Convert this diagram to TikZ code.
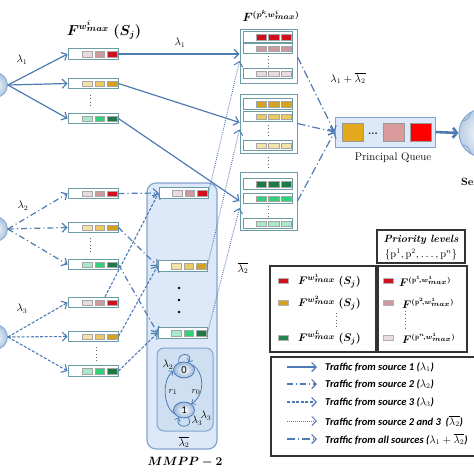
\documentclass[tikz,border=0pt]{standalone}
\usepackage{amsmath}
\usepackage{fontspec}
\newfontfamily\carl{Carlito}
\usetikzlibrary{arrows.meta,shapes.geometric,calc}

\definecolor{lb}{HTML}{4E7BB2}
\definecolor{bord}{HTML}{6C9BA3}
\definecolor{mfill}{HTML}{DDE9F8}
\definecolor{mdraw}{HTML}{82A5CE}
\definecolor{cR}{HTML}{D0101C}
\definecolor{cP}{HTML}{CB9A9F}
\definecolor{cL}{HTML}{E8DCE0}
\definecolor{cGd}{HTML}{D5A21E}
\definecolor{cG}{HTML}{E9CB62}
\definecolor{cGl}{HTML}{F3E3A8}
\definecolor{cNd}{HTML}{1E7A44}
\definecolor{cN}{HTML}{2FD27A}
\definecolor{cNl}{HTML}{A8E8CB}
\definecolor{qGold}{HTML}{E2A91C}
\definecolor{qPink}{HTML}{D99A9C}
\definecolor{qRed}{HTML}{FF0000}
\definecolor{legc}{HTML}{333333}

\newcommand{\qb}[8]{%
 \node[qbar, minimum width=#4pt] (#1) at (#2,#3) {};
 \node[cell, minimum width=#5pt, fill=#8] (#1c) at ([xshift=-6.5pt]#1.east) {};
 \node[cell, minimum width=#5pt, fill=#7] (#1b) at ([xshift=-19pt]#1.east) {};
 \node[cell, minimum width=#5pt, fill=#6] (#1a) at ([xshift=-31.5pt]#1.east) {};
}
\newcommand{\Fw}[1]{\boldsymbol{F^{w^{#1}_{\scriptstyle max}}}}

\tikzset{
 qbar/.style={rectangle, draw=bord, fill=white, line width=0.9pt, minimum height=10.5pt, inner sep=0pt},
 cell/.style={rectangle, draw=black!35, line width=0.3pt, minimum height=5.5pt, inner sep=0pt},
 fbox/.style={rectangle, draw=bord, fill=white, line width=1pt, minimum width=57pt, inner sep=0pt},
 tip/.style={-{Straight Barb[length=4.5pt,width=9pt]}},
 s1line/.style={draw=lb, line width=1.2pt, tip},
 s2line/.style={draw=lb, line width=1.2pt, tip, dash pattern=on 6pt off 3pt on 1.2pt off 3pt},
 s3line/.style={draw=lb, line width=1.1pt, tip, dash pattern=on 3pt off 1.6pt},
 mixline/.style={draw=lb, line width=1pt, tip, dash pattern=on 0.8pt off 1.2pt},
 allline/.style={draw=lb, line width=1.2pt, tip, dash pattern=on 8pt off 3pt on 1.2pt off 3pt},
 srcnode/.style={circle, minimum size=25pt, draw=mdraw, line width=0.8pt, inner color=white, outer color=mdraw!70},
 state/.style={ellipse, minimum width=21pt, minimum height=16pt, inner sep=0pt, draw=lb, line width=0.8pt, inner color=white, outer color=mdraw!80, font=\carl\fontsize{10.5}{12}\selectfont},
 sarr/.style={draw=lb, line width=0.8pt, -{Straight Barb[length=3pt,width=6pt]}},
 lbl/.style={font=\fontsize{10.5}{12}\selectfont, inner sep=0pt},
 dotv/.style={draw=black!60, line width=0.9pt, dash pattern=on 0.9pt off 2.4pt},
 legbox/.style={rectangle, draw=legc, line width=1.1pt, inner sep=0pt},
 swatch/.style={rectangle, minimum width=10pt, minimum height=5pt, inner sep=0pt, draw=black!30, line width=0.3pt},
 legtxt/.style={anchor=west, inner sep=0pt, font=\fontsize{11}{13}\selectfont},
 trtxt/.style={anchor=west, inner sep=0pt, font=\carl\bfseries\itshape\fontsize{10.5}{12}\selectfont},
 pqcell/.style={rectangle, minimum width=21pt, minimum height=18pt, inner sep=0pt, draw=black!40, line width=0.4pt},
}

\begin{document}
\begin{tikzpicture}[x=1pt,y=-1pt]
\useasboundingbox (0,0) rectangle (474,474);

% ---------- MMPP box ----------
\node[rectangle, rounded corners=9pt, draw=mdraw, fill=mfill, line width=1.2pt, minimum width=70pt, minimum height=266pt, inner sep=0pt] (mmpp) at (182,316) {};
\node[rectangle, rounded corners=7pt, draw=mdraw, fill=mfill!85!mdraw, line width=1pt, minimum width=56pt, minimum height=83pt, inner sep=0pt] (mmin) at (185,389.5) {};

% ---------- sources ----------
\node[srcnode] (s1) at (-5,85) {};
\node[srcnode] (s2) at (-5,229) {};
\node[srcnode] (s3) at (-5,337) {};

% ---------- source queues ----------
\qb{b11}{93}{54}{50}{9.5}{cL}{cP}{cR}
\qb{b12}{93}{83.5}{50}{9.5}{cGl}{cG}{cGd}
\qb{b13}{93}{118.5}{50}{9.5}{cNl}{cN}{cNd}
\qb{b21}{93}{193.5}{50}{9.5}{cL}{cP}{cR}
\qb{b22}{93}{227.5}{50}{9.5}{cGl}{cG}{cGd}
\qb{b23}{93}{264.5}{50}{9.5}{cNl}{cN}{cNd}
\qb{b31}{93}{302.5}{50}{9.5}{cL}{cP}{cR}
\qb{b32}{93}{336.5}{50}{9.5}{cGl}{cG}{cGd}
\qb{b33}{93}{371}{50}{9.5}{cNl}{cN}{cNd}
\draw[dotv] (90,95) -- (90,108);
\draw[dotv] (90,238) -- (90,254);
\draw[dotv] (96,347) -- (96,362);

% ---------- MMPP queues ----------
\qb{m1}{183.5}{193}{49}{9.5}{cL}{cP}{cR}
\qb{m2}{182.5}{266}{49}{9.5}{cGl}{cG}{cGd}
\qb{m3}{182.5}{333}{49}{9.5}{cNl}{cN}{cNd}
\fill[black] (179,288) circle (1.3) (179,300) circle (1.3) (179,312) circle (1.3);

% ---------- F boxes ----------
\node[fbox, minimum height=54pt] (f1) at (268.5,56) {};
\node[fbox, minimum height=59pt] (f2) at (268.5,123.5) {};
\node[fbox, minimum height=58pt] (f3) at (268.5,201) {};
\qb{f1a}{267.5}{37}{49}{10.5}{cR}{cR}{cR}
\qb{f1b}{267.5}{48.5}{49}{10.5}{cP}{cP}{cP}
\qb{f1c}{267.5}{73.5}{49}{10.5}{cL}{cL}{cL}
\qb{f2a}{267.5}{104}{49}{10.5}{cGd}{cGd}{cGd}
\qb{f2b}{267.5}{116.5}{49}{10.5}{cG}{cG}{cG}
\qb{f2c}{267.5}{145.5}{49}{10.5}{cGl}{cGl}{cGl}
\qb{f3a}{267.5}{184}{49}{10.5}{cNd}{cNd}{cNd}
\qb{f3b}{267.5}{198.5}{49}{10.5}{cN}{cN}{cN}
\qb{f3c}{267.5}{223.5}{49}{10.5}{cNl}{cNl}{cNl}
\draw[dotv, line width=0.7pt] (268,56) -- (268,66);
\draw[dotv, line width=0.7pt] (268,125) -- (268,138);
\draw[dotv, line width=0.7pt] (268,206) -- (268,216);
\draw[dotv, line width=0.7pt] (268,157) -- (268,169);

% ---------- Principal queue and server ----------
\node[rectangle, draw=mdraw, fill=mfill, line width=1pt, minimum width=100pt, minimum height=30pt, inner sep=0pt] (pq) at (385,132) {};
\node[pqcell, fill=qGold] (pq1) at (352.5,132) {};
\node[pqcell, fill=qPink] (pq2) at (394,132) {};
\node[pqcell, fill=qRed] (pq3) at (420.5,132) {};
\node[inner sep=0pt, font=\bfseries] (pqd) at (373,134) {...};
\node[lbl, font=\fontsize{11}{12}\selectfont] (pql) at (393,158) {Principal Queue};
\node[circle, minimum size=48pt, draw=mdraw, line width=1pt, inner color=white, outer color=mdraw!55] (srv) at (483,133) {};
\draw[mdraw, line width=0.8pt] (462,121) .. controls (467,121) and (470,117) .. (471,112);
\draw[mdraw, line width=0.8pt] (462,145) .. controls (467,145) and (470,149) .. (471,154);
\node[anchor=west, inner sep=0pt, font=\bfseries\fontsize{10.5}{12}\selectfont] (srvl) at (461,182) {Server};
\draw[lb, line width=2.6pt, -{Straight Barb[length=4pt,width=10pt]}] (pq.east) -- (srv.west);

% ---------- titles & labels ----------
\node[lbl, font=\fontsize{13.5}{15}\selectfont] (t1) at (104,30) {$\Fw{i}\;\boldsymbol{(S_j)}$};
\node[lbl, font=\fontsize{11.5}{13}\selectfont] (t2) at (271,16) {$\boldsymbol{F^{(p^k\!,w^{i}_{\scriptstyle max})}}$};
\node[lbl] (l1) at (22,60) {$\lambda_1$};
\node[lbl] (l1b) at (180,43) {$\lambda_1$};
\node[lbl] (l2) at (23,206) {$\lambda_2$};
\node[lbl] (l3) at (22,309) {$\lambda_3$};
\node[lbl] (l12) at (348,78) {$\lambda_1+\overline{\lambda_2}$};
\node[lbl] (l2b) at (243,268) {$\overline{\lambda_2}$};

% ---------- source 1 ----------
\draw[s1line] (s1.east) -- (b11.west);
\draw[s1line] (s1.east) -- (b12.west);
\draw[s1line] (s1.east) -- (b13.west);
\draw[s1line] (b11.east) -- (b11.east -| f1.west);
\draw[s1line] (b12.east) -- ([yshift=1pt]f2.west);
\draw[s1line] (b13.east) -- (f3.west);

% ---------- source 2 ----------
\draw[s2line] (s2.east) -- (b21.west);
\draw[s2line] (s2.east) -- (b22.west);
\draw[s2line] (s2.east) -- (b23.west);
\draw[s2line] (b21.east) -- (m1.west);
\draw[s2line] (b22.east) -- (m2.west);
\draw[s2line] (b23.east) -- (m3.west);

% ---------- source 3 ----------
\draw[s3line] (s3.east) -- (b31.west);
\draw[s3line] (s3.east) -- (b32.west);
\draw[s3line] (s3.east) -- (b33.west);
\draw[s3line] ([xshift=12pt]b31.north) -- (m1.west);
\draw[s3line] (b32.east) -- (m2.west);
\draw[s3line] (b33.east) -- (m3.west);

% ---------- MMPP to F boxes ----------
\draw[mixline] (m1.east) -- ([yshift=-5pt]f1.west);
\draw[mixline] (m2.east) -- ([yshift=-6pt]f2.west);
\draw[mixline] (m3.east) -- ([yshift=-7pt]f3.west);

% ---------- F boxes to principal queue ----------
\draw[allline] ([yshift=-1pt]f1.east) -- (pq.west);
\draw[allline] (f2.east) -- (pq.west);
\draw[allline] (f3.east) -- (pq.west);

% ---------- MMPP state diagram ----------
\node[state] (q0) at (184,370) {0};
\node[state] (q1) at (184,410) {1};
\draw[sarr] (q0.30) .. controls (204,372) and (206,394) .. (q1.40);
\draw[sarr] (q1.200) .. controls (163,406) and (162,380) .. (q0.185);
\draw[sarr] (q0.125) .. controls (176,352) and (194,352) .. (q0.60);
\draw[sarr] (q1.-60) .. controls (195,429) and (174,429) .. (q1.-125);
\node[lbl] (sl2) at (168,365) {$\lambda_2$};
\node[lbl, font=\fontsize{9.5}{10}\selectfont] (sr1) at (173,392) {$r_1$};
\node[lbl, font=\fontsize{9.5}{10}\selectfont] (sr0) at (196,392) {$r_0$};
\node[lbl] (sl3a) at (197,421) {$\lambda_3$};
\node[lbl] (sl3b) at (206,416) {$\lambda_3$};
\node[lbl] (ml2) at (184,442) {$\overline{\lambda_2}$};
\node[lbl, font=\fontsize{11.5}{13}\selectfont] (mlab) at (185,462) {$\boldsymbol{MMPP-2}$};

% ---------- legends ----------
\node[legbox, minimum width=88pt, minimum height=33pt] (prio) at (421,246.5) {};
\node[inner sep=0pt, font=\bfseries\itshape\fontsize{10.5}{12}\selectfont] (priot) at (421,240) {Priority levels};
\node[inner sep=0pt, font=\fontsize{10.5}{12}\selectfont] (prios) at (421,255) {$\{\mathrm{p}^1,\mathrm{p}^2,\dots,\mathrm{p}^n\}$};

\node[legbox, minimum width=106pt, minimum height=86pt] (lg1) at (323,309) {};
\node[legbox, minimum width=89pt, minimum height=86pt] (lg2) at (422.5,309) {};
\node[swatch, fill=cR] (w1) at (283,281) {};
\node[swatch, fill=cGd] (w2) at (283,303) {};
\node[swatch, fill=cNd!85!cN] (w3) at (283,338) {};
\node[legtxt] (wt1) at (298,281) {$\Fw{1}\;\boldsymbol{(S_j)}$};
\node[legtxt] (wt2) at (298,303) {$\Fw{2}\;\boldsymbol{(S_j)}$};
\node[legtxt] (wt3) at (298,338) {$\Fw{L}\;\boldsymbol{(S_j)}$};
\draw[dotv, line width=0.7pt] (336,313) -- (336,329);
\node[swatch, fill=cR] (p1) at (388,281) {};
\node[swatch, fill=cP] (p2) at (388,303) {};
\node[swatch, fill=cL] (p3) at (388,338) {};
\node[legtxt, font=\fontsize{10.5}{12}\selectfont] (pt1) at (399,281) {$\boldsymbol{F^{(\mathrm{p}^1\!,w^{1}_{\scriptstyle max})}}$};
\node[legtxt, font=\fontsize{10.5}{12}\selectfont] (pt2) at (402,303) {$\boldsymbol{F^{(\mathrm{p}^2\!,w^{1}_{\scriptstyle max})}}$};
\node[legtxt, font=\fontsize{10.5}{12}\selectfont] (pt3) at (402,338) {$\boldsymbol{F^{(\mathrm{p}^n\!,w^{1}_{\scriptstyle max})}}$};
\draw[dotv, line width=0.7pt] (405,311) -- (405,329);

\node[legbox, minimum width=215pt, minimum height=99pt] (lg3) at (378.5,406.5) {};
\coordinate (a1) at (287,367); \coordinate (e1) at (317,367);
\coordinate (a2) at (287,384); \coordinate (e2) at (317,384);
\coordinate (a3) at (287,402); \coordinate (e3) at (317,402);
\coordinate (a4) at (287,421); \coordinate (e4) at (317,421);
\coordinate (a5) at (287,439); \coordinate (e5) at (317,439);
\draw[s1line] (a1) -- (e1);
\draw[s2line] (a2) -- (e2);
\draw[s3line] (a3) -- (e3);
\draw[mixline] (a4) -- (e4);
\draw[allline] (a5) -- (e5);
\node[trtxt] (tr1) at (325,367) {Traffic from source 1 ($\lambda_1$)};
\node[trtxt] (tr2) at (325,384) {Traffic from source 2 ($\lambda_2$)};
\node[trtxt] (tr3) at (325,402) {Traffic from source 3 ($\lambda_3$)};
\node[trtxt] (tr4) at (325,421) {Traffic from source 2 and 3 \ ($\overline{\lambda_2}$)};
\node[trtxt] (tr5) at (325,439) {Traffic from all sources ($\lambda_1+\overline{\lambda_2}$)};
\end{tikzpicture}
\end{document}
